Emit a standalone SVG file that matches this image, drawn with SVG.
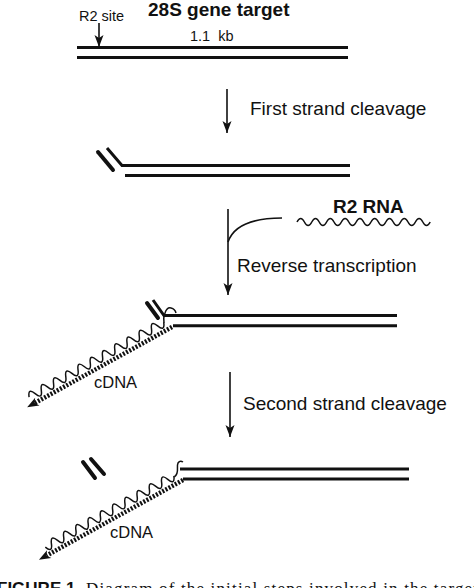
<svg xmlns="http://www.w3.org/2000/svg" width="474" height="588" viewBox="0 0 474 588">
<defs>
<style>
.t{font-family:"Liberation Sans",Arial,sans-serif;fill:#111}
.b{font-weight:bold}
.s{fill:none;stroke:#111;stroke-width:3}
.sl{fill:none;stroke:#111;stroke-width:4;stroke-linecap:round}
.w{fill:none;stroke:#111;stroke-width:1.5}
.ar{fill:none;stroke:#111;stroke-width:1.6}
.dash{fill:none;stroke:#111;stroke-width:4.5;stroke-dasharray:2 1.6}
</style>
<marker id="ah" markerUnits="userSpaceOnUse" markerWidth="14" markerHeight="12" refX="12" refY="5" orient="auto" viewBox="0 0 14 10">
<path d="M12,5 L0,0.5 L3,5 L0,9.5 Z" fill="#111"/>
</marker>
</defs>
<rect width="474" height="588" fill="#fff"/>

<g id="title">
<text class="t b" x="148" y="16" font-size="19">28S gene target</text>
</g>

<g id="stage1">
<text class="t" x="79" y="20.5" font-size="14.5">R2 site</text>
<text class="t" x="190" y="41" font-size="14.5" word-spacing="4">1.1 kb</text>
<path class="s" d="M77,47.5 H348 M77,57.5 H348"/>
</g>

<g id="stage2">
<path class="s" d="M107,148 L122,165.5 H350 M125,175.5 H350"/>
<path class="sl" d="M98,152 L113,170"/>
</g>

<g id="r2rna">
<text class="t b" x="333" y="213" font-size="19">R2 RNA</text>
<path class="w" d="M297,222 q3.7,-7 7.4,0 t7.4,0 t7.4,0 t7.4,0 t7.4,0 t7.4,0 t7.4,0 t7.4,0 t7.4,0 t7.4,0 t7.4,0 t7.4,0 t7.4,0 t7.4,0 t7.4,0 t7.4,0 t7.4,0 t7.4,0"/>
</g>

<g id="stage3">
<path class="s" d="M153,300 L164,315.5 H397 M173,325.7 H397"/>
<path class="sl" d="M147,303 L158,318"/>
<path class="w" d="M164,323 Q163,318 165,313 Q167,307 171,308 Q175,309 176,313"/>
<g transform="translate(172,327) rotate(151)">
<path class="dash" d="M0,0 H157"/>
<path d="M165.6,0 L154,-4.5 L157,0 L154,4.5 Z" fill="#111"/>
<path class="w" d="M5,8 q3.5,-9 7,0 t7,0 t7,0 t7,0 t7,0 t7,0 t7,0 t7,0 t7,0 t7,0 t7,0 t7,0 t7,0 t7,0 t7,0 t7,0 t7,0 t7,0 t7,0 t7,0 t7,0 t7,0"/>
</g>
<text class="t" x="94" y="388" font-size="16.5">cDNA</text>
</g>

<g id="stage4">
<path class="s" d="M180,469 H409 M183,479 H409"/>
<path class="sl" d="M83,462 L95,478 M91,459 L104,474"/>
<path class="w" d="M174.4,476.8 C180,473 176,467 178,463 Q180,460 183,462"/>
<g transform="translate(183,480) rotate(151)">
<path class="dash" d="M0,0 H156"/>
<path d="M164.7,0 L153,-4.5 L156,0 L153,4.5 Z" fill="#111"/>
<path class="w" d="M6,8 q3.5,-9 7,0 t7,0 t7,0 t7,0 t7,0 t7,0 t7,0 t7,0 t7,0 t7,0 t7,0 t7,0 t7,0 t7,0 t7,0 t7,0 t7,0 t7,0 t7,0 t7,0 t7,0"/>
</g>
<text class="t" x="110" y="538" font-size="16.5">cDNA</text>
</g>

<g id="connectors">
<path class="ar" d="M99,23 V47" marker-end="url(#ah)"/>
<path class="ar" d="M227,89 V133" marker-end="url(#ah)"/>
<path class="ar" d="M228,209 V295" marker-end="url(#ah)"/>
<path class="ar" d="M228,242 Q236,218 282,218"/>
<path class="ar" d="M230,372 V437" marker-end="url(#ah)"/>
</g>

<g id="labels">
<text class="t" x="250" y="115" font-size="19">First strand cleavage</text>
<text class="t" x="237" y="272" font-size="19">Reverse transcription</text>
<text class="t" x="243" y="410" font-size="19">Second strand cleavage</text>
</g>

<g id="caption">
<text class="t b" x="-3" y="594" font-size="17">FIGURE 1.</text>
<text x="86" y="594" font-size="17" font-family="'Liberation Serif','Times New Roman',serif" fill="#111" textLength="392" lengthAdjust="spacing">Diagram of the initial steps involved in the target</text>
</g>
</svg>
